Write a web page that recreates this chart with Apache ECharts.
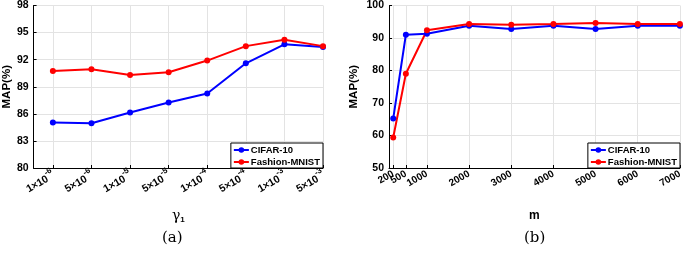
<!DOCTYPE html>
<html>
<head>
<meta charset="utf-8">
<script src="https://cdn.jsdelivr.net/npm/echarts@6/dist/echarts.min.js"></script>
<style>
  html, body { margin: 0; padding: 0; background: #fff; }
  #chart { width: 685px; height: 257px; }
</style>
</head>
<body>
<div id="chart"></div>
<script>
// (a) MAP vs gamma_1 — categories placed at 1..8
const gammaPos = [1, 2, 3, 4, 5, 6, 7, 8];
const gammaMant = ['1', '5', '1', '5', '1', '5', '1', '5'];
const gammaExp = ['-6', '-6', '-5', '-5', '-4', '-4', '-3', '-3'];
const cifarGamma = [85.05, 84.95, 86.15, 87.25, 88.25, 91.6, 93.7, 93.4];
const fashionGamma = [90.75, 90.95, 90.3, 90.6, 91.9, 93.5, 94.2, 93.5];
const yTicksA = [80, 83, 86, 89, 92, 95, 98];

// (b) MAP vs m
const mValues = [200, 500, 1000, 2000, 3000, 4000, 5000, 6000, 7000];
const cifarM = [65.2, 91.0, 91.3, 93.8, 92.8, 93.8, 92.8, 93.8, 93.8];
const fashionM = [59.4, 79.0, 92.4, 94.3, 94.1, 94.3, 94.6, 94.3, 94.3];
const yTicksB = [50, 60, 70, 80, 90, 100];
const mAxisMin = 100;

const BLUE = '#0000ff';
const RED = '#ff0000';
const GRID = '#e3e3e3';
const FONT = 'Liberation Sans, Arial, sans-serif';

const chart = echarts.init(document.getElementById('chart'));

const axisLine = { show: true, lineStyle: { color: '#000', width: 1 } };
const tick = (vals) => ({ show: true, inside: true, length: 3, customValues: vals, lineStyle: { color: '#000' } });
const split = { show: true, lineStyle: { color: GRID, width: 1 } };
const tickLabel = { color: '#000', fontSize: 10.5, fontWeight: 'bold', fontFamily: FONT, hideOverlap: false };

function lineSeries(name, data, color, xi, yi) {
    return {
        name, type: 'line', xAxisIndex: xi, yAxisIndex: yi, data,
        symbol: 'circle', symbolSize: 6, showSymbol: true,
        lineStyle: { color, width: 2 }, itemStyle: { color },
        animation: false,
    };
}

function legend(right) {
    return {
        right, bottom: 89, orient: 'vertical',
        backgroundColor: '#fff', borderColor: '#000', borderWidth: 1, borderRadius: 0,
        padding: [2, 3, 1, 2], itemGap: 2, itemWidth: 15, itemHeight: 7,
        textStyle: { color: '#000', fontSize: 9.5, fontWeight: 'bold', fontFamily: FONT, padding: [0, 0, 0, -3] },
        data: ['CIFAR-10', 'Fashion-MNIST'],
    };
}

chart.setOption({
    backgroundColor: '#fff',
    animation: false,
    title: [
        { text: '(a)', left: 157, top: 226, textStyle: { fontFamily: 'DejaVu Serif, Liberation Serif, serif', fontWeight: 'normal', fontSize: 15, color: '#000' } },
        { text: '(b)', left: 519, top: 226, textStyle: { fontFamily: 'DejaVu Serif, Liberation Serif, serif', fontWeight: 'normal', fontSize: 15, color: '#000' } },
    ],
    grid: [
        { left: 30, right: 362, top: 5, height: 163 },
        { left: 389, right: 5, top: 5, height: 163 },
    ],
    legend: [
        legend(362),
        legend(5),
    ],
    xAxis: [
        {
            type: 'value', gridIndex: 0, min: 0.5, max: 8,
            axisLine, axisTick: tick(gammaPos), splitLine: split,
            axisLabel: {
                customValues: gammaPos, rotate: 30, margin: 5, hideOverlap: false,
                formatter: (v) => {
                    const i = gammaPos.indexOf(v);
                    return '{b|' + gammaMant[i] + '\u00d710}{s|' + gammaExp[i] + '}';
                },
                rich: {
                    b: { fontSize: 10.5, fontWeight: 'bold', fontFamily: FONT, color: '#000', verticalAlign: 'bottom' },
                    s: { fontSize: 8, fontWeight: 'bold', fontFamily: FONT, color: '#000', verticalAlign: 'top', padding: [0, 0, 7, 0] },
                },
            },
            name: '{g|\u03b3}{i|1}', nameLocation: 'middle', nameGap: 40,
            nameTextStyle: {
                rich: {
                    g: { fontSize: 14, fontFamily: 'DejaVu Serif, serif', color: '#000' },
                    i: { fontSize: 8, fontWeight: 'bold', fontFamily: FONT, color: '#000', padding: [8, 0, 0, 0] },
                },
            },
        },
        {
            type: 'value', gridIndex: 1, min: mAxisMin, max: 7000,
            axisLine, axisTick: tick(mValues), splitLine: split,
            axisLabel: Object.assign({}, tickLabel, {
                // blank label at the axis min keeps 200 and 500 both visible
                customValues: [mAxisMin].concat(mValues), rotate: 30, margin: 5, fontSize: 10,
                formatter: (v) => (v === mAxisMin ? '' : String(v)),
            }),
            name: 'm', nameLocation: 'middle', nameGap: 42,
            nameTextStyle: { color: '#000', fontSize: 12, fontWeight: 'bold', fontFamily: FONT },
        },
    ],
    yAxis: [
        {
            type: 'value', gridIndex: 0, min: 80, max: 98,
            axisLine, axisTick: tick(yTicksA), splitLine: split,
            axisLabel: Object.assign({}, tickLabel, { customValues: yTicksA, margin: 5 }),
            name: 'MAP(%)', nameLocation: 'middle', nameGap: 17,
            nameTextStyle: { color: '#000', fontSize: 11.5, fontWeight: 'bold', fontFamily: FONT },
        },
        {
            type: 'value', gridIndex: 1, min: 50, max: 100,
            axisLine, axisTick: tick(yTicksB), splitLine: split,
            axisLabel: Object.assign({}, tickLabel, { customValues: yTicksB, margin: 5 }),
            name: 'MAP(%)', nameLocation: 'middle', nameGap: 29,
            nameTextStyle: { color: '#000', fontSize: 11.5, fontWeight: 'bold', fontFamily: FONT },
        },
    ],
    series: [
        lineSeries('CIFAR-10', gammaPos.map((x, i) => [x, cifarGamma[i]]), BLUE, 0, 0),
        lineSeries('Fashion-MNIST', gammaPos.map((x, i) => [x, fashionGamma[i]]), RED, 0, 0),
        lineSeries('CIFAR-10', mValues.map((x, i) => [x, cifarM[i]]), BLUE, 1, 1),
        lineSeries('Fashion-MNIST', mValues.map((x, i) => [x, fashionM[i]]), RED, 1, 1),
    ],
});
</script>
</body>
</html>
